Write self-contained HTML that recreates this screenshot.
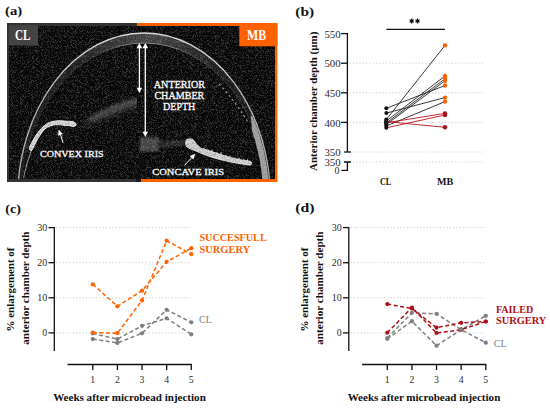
<!DOCTYPE html>
<html><head><meta charset="utf-8"><style>
html,body{margin:0;padding:0;background:#fff;width:550px;height:409px;overflow:hidden}
svg{display:block}
text{font-family:"Liberation Serif",serif}
</style></head><body>
<svg width="550" height="409" viewBox="0 0 550 409">
<text x="5.0" y="15.2" font-size="13.5" text-anchor="start" fill="#111" font-weight="bold" textLength="17.2" lengthAdjust="spacingAndGlyphs" >(a)</text>
<text x="295.3" y="16.2" font-size="13.5" text-anchor="start" fill="#111" font-weight="bold" textLength="18.8" lengthAdjust="spacingAndGlyphs" >(b)</text>
<text x="5.3" y="212.7" font-size="13.5" text-anchor="start" fill="#111" font-weight="bold" textLength="15.6" lengthAdjust="spacingAndGlyphs" >(c)</text>
<text x="295.2" y="211.8" font-size="13.5" text-anchor="start" fill="#111" font-weight="bold" textLength="19.2" lengthAdjust="spacingAndGlyphs" >(d)</text>
<defs><clipPath id="cl"><rect x="9" y="26" width="128" height="153"/></clipPath><clipPath id="cr"><rect x="137" y="26" width="138" height="153"/></clipPath><clipPath id="call"><rect x="9" y="26" width="266" height="153"/></clipPath><filter id="blur1" x="-20%" y="-20%" width="140%" height="140%"><feGaussianBlur stdDeviation="0.5"/></filter><filter id="blur3" x="-50%" y="-50%" width="200%" height="200%"><feGaussianBlur stdDeviation="2.5 1.5"/></filter><filter id="blur4" x="-20%" y="-20%" width="140%" height="140%"><feGaussianBlur stdDeviation="1"/></filter><filter id="blur2" x="-50%" y="-50%" width="200%" height="200%"><feGaussianBlur stdDeviation="2.5"/></filter></defs>
<filter id="spk" x="0" y="0" width="100%" height="100%" filterUnits="objectBoundingBox"><feTurbulence type="fractalNoise" baseFrequency="2.2" numOctaves="2" seed="7" result="n"/><feColorMatrix in="n" type="matrix" values="0 0 0 0 1  0 0 0 0 1  0 0 0 0 1  6 0 0 0 -3.0"/></filter>
<rect x="7" y="23" width="131" height="159" fill="#333"/>
<rect x="137" y="23" width="140.4" height="159" fill="#ff6100"/>
<rect x="9" y="26" width="266" height="153" fill="#080808"/>
<rect x="136" y="179" width="5" height="3" fill="#1a1a1a"/>
<g clip-path="url(#call)">
<defs><linearGradient id="bandg" gradientUnits="userSpaceOnUse" x1="17" y1="0" x2="271" y2="0"><stop offset="0" stop-color="#161616"/><stop offset="0.22" stop-color="#1e1e1e"/><stop offset="0.38" stop-color="#333"/><stop offset="0.52" stop-color="#444"/><stop offset="0.68" stop-color="#2a2a2a"/><stop offset="0.82" stop-color="#1c1c1c"/><stop offset="1" stop-color="#161616"/></linearGradient><linearGradient id="inng" gradientUnits="userSpaceOnUse" x1="17" y1="0" x2="271" y2="0"><stop offset="0" stop-color="#1e1e1e"/><stop offset="0.3" stop-color="#333"/><stop offset="0.45" stop-color="#888"/><stop offset="0.6" stop-color="#888"/><stop offset="0.75" stop-color="#333"/><stop offset="1" stop-color="#2a2a2a"/></linearGradient></defs>
<path d="M17.5,200 A126.5,167 0 0 1 270.5,200 L267.5,200 A123.5,157 0 0 0 20.5,200 Z" fill="url(#bandg)"/>
<defs><linearGradient id="outg" gradientUnits="userSpaceOnUse" x1="0" y1="33" x2="0" y2="180"><stop offset="0" stop-color="#d8d8d8"/><stop offset="0.4" stop-color="#b0b0b0"/><stop offset="1" stop-color="#a0a0a0"/></linearGradient></defs>
<path d="M17.5,200 A126.5,167 0 0 1 270.5,200" fill="none" stroke="url(#outg)" stroke-width="1.4" filter="url(#blur1)"/>
<path d="M20.5,200 A123.5,157 0 0 1 267.5,200" fill="none" stroke="url(#inng)" stroke-width="0.9" filter="url(#blur1)"/>
<path d="M80,123 Q105,107 139,97 L139,110 Q110,115 86,127 Z" fill="#242424" filter="url(#blur2)" clip-path="url(#cl)"/>
<path d="M88,119 Q110,105 139,97.5 L139,104 Q114,109 92,122 Z" fill="#474747" filter="url(#blur3)" clip-path="url(#cl)"/>
<rect x="140" y="137.5" width="19" height="14" fill="#444" filter="url(#blur4)"/>
<path d="M157,141.5 L187,140 L187,145 L157,148 Z" fill="#262626" filter="url(#blur4)"/>
<path d="M252.3,116.0 L254.8,122.0 L257.8,130.0 L260.9,140.0 L263.6,150.0 L265.7,160.0 L267.3,170.0 L268.4,180.0 L262.4,180.0 L261.3,170.0 L259.7,160.0 L257.6,150.0 L254.9,140.0 L251.8,130.0 L251.4,122.0 L250.8,116.0 Z" fill="#9a9a9a" filter="url(#blur1)"/>
<path d="M219,84 Q236,102 249,124" fill="none" stroke="#9a9a9a" stroke-width="1.1" stroke-dasharray="2,3" filter="url(#blur1)"/>
</g>
<path d="M31.5,150 Q27,162 23.5,178" fill="none" stroke="#808080" stroke-width="1.1" filter="url(#blur1)"/>
<path d="M29.50,147.50 C30.28,144.92 33.97,138.42 36.20,135.00 C38.43,131.58 40.68,129.10 42.90,127.00 C45.12,124.90 46.95,123.43 49.50,122.40 C52.05,121.37 55.30,120.98 58.20,120.80 C61.10,120.62 64.60,121.17 66.90,121.30 C69.20,121.43 70.60,121.32 72.00,121.60 C73.40,121.88 74.63,122.40 75.30,123.00 C75.97,123.60 76.30,124.60 76.00,125.20 C75.70,125.80 74.67,126.53 73.50,126.60 C72.33,126.67 70.58,125.82 69.00,125.60 C67.42,125.38 66.00,125.47 64.00,125.30 C62.00,125.13 59.25,124.52 57.00,124.60 C54.75,124.68 52.58,125.00 50.50,125.80 C48.42,126.60 46.50,127.45 44.50,129.40 C42.50,131.35 40.33,134.57 38.50,137.50 C36.67,140.43 34.67,144.83 33.50,147.00 C32.33,149.17 32.17,150.42 31.50,150.50 C30.83,150.58 28.72,150.08 29.50,147.50 Z" fill="#d2d2d2" stroke="#f0f0f0" stroke-width="1" filter="url(#blur1)"/>
<path d="M186.00,140.50 C186.45,139.33 187.83,139.17 189.00,139.00 C190.17,138.83 191.92,138.83 193.00,139.50 C194.08,140.17 194.27,141.62 195.50,143.00 C196.73,144.38 198.82,146.73 200.40,147.80 C201.98,148.87 203.40,148.87 205.00,149.40 C206.60,149.93 208.10,150.37 210.00,151.00 C211.90,151.63 214.07,152.43 216.40,153.20 C218.73,153.97 221.58,154.85 224.00,155.60 C226.42,156.35 228.23,157.02 230.90,157.70 C233.57,158.38 236.85,159.10 240.00,159.70 C243.15,160.30 247.88,160.75 249.80,161.30 C251.72,161.85 251.47,162.38 251.50,163.00 C251.53,163.62 251.92,164.90 250.00,165.00 C248.08,165.10 243.17,164.10 240.00,163.60 C236.83,163.10 235.00,162.87 231.00,162.00 C227.00,161.13 220.50,159.67 216.00,158.40 C211.50,157.13 207.33,155.63 204.00,154.40 C200.67,153.17 198.33,151.97 196.00,151.00 C193.67,150.03 191.62,149.43 190.00,148.60 C188.38,147.77 186.97,147.35 186.30,146.00 C185.63,144.65 185.55,141.67 186.00,140.50 Z" fill="#d0d0d0" stroke="#ececec" stroke-width="0.9" filter="url(#blur1)"/>
<clipPath id="irisclip"><path d="M29.50,147.50 C30.28,144.92 33.97,138.42 36.20,135.00 C38.43,131.58 40.68,129.10 42.90,127.00 C45.12,124.90 46.95,123.43 49.50,122.40 C52.05,121.37 55.30,120.98 58.20,120.80 C61.10,120.62 64.60,121.17 66.90,121.30 C69.20,121.43 70.60,121.32 72.00,121.60 C73.40,121.88 74.63,122.40 75.30,123.00 C75.97,123.60 76.30,124.60 76.00,125.20 C75.70,125.80 74.67,126.53 73.50,126.60 C72.33,126.67 70.58,125.82 69.00,125.60 C67.42,125.38 66.00,125.47 64.00,125.30 C62.00,125.13 59.25,124.52 57.00,124.60 C54.75,124.68 52.58,125.00 50.50,125.80 C48.42,126.60 46.50,127.45 44.50,129.40 C42.50,131.35 40.33,134.57 38.50,137.50 C36.67,140.43 34.67,144.83 33.50,147.00 C32.33,149.17 32.17,150.42 31.50,150.50 C30.83,150.58 28.72,150.08 29.50,147.50 Z"/><path d="M186.00,140.50 C186.45,139.33 187.83,139.17 189.00,139.00 C190.17,138.83 191.92,138.83 193.00,139.50 C194.08,140.17 194.27,141.62 195.50,143.00 C196.73,144.38 198.82,146.73 200.40,147.80 C201.98,148.87 203.40,148.87 205.00,149.40 C206.60,149.93 208.10,150.37 210.00,151.00 C211.90,151.63 214.07,152.43 216.40,153.20 C218.73,153.97 221.58,154.85 224.00,155.60 C226.42,156.35 228.23,157.02 230.90,157.70 C233.57,158.38 236.85,159.10 240.00,159.70 C243.15,160.30 247.88,160.75 249.80,161.30 C251.72,161.85 251.47,162.38 251.50,163.00 C251.53,163.62 251.92,164.90 250.00,165.00 C248.08,165.10 243.17,164.10 240.00,163.60 C236.83,163.10 235.00,162.87 231.00,162.00 C227.00,161.13 220.50,159.67 216.00,158.40 C211.50,157.13 207.33,155.63 204.00,154.40 C200.67,153.17 198.33,151.97 196.00,151.00 C193.67,150.03 191.62,149.43 190.00,148.60 C188.38,147.77 186.97,147.35 186.30,146.00 C185.63,144.65 185.55,141.67 186.00,140.50 Z"/></clipPath>
<filter id="dspk" x="0" y="0" width="100%" height="100%"><feTurbulence type="fractalNoise" baseFrequency="1.3" numOctaves="2" seed="3"/><feColorMatrix type="matrix" values="0 0 0 0 0  0 0 0 0 0  0 0 0 0 0  5 0 0 0 -2.4"/></filter>
<rect x="20" y="115" width="240" height="55" filter="url(#dspk)" clip-path="url(#irisclip)" opacity="0.2"/>
<path d="M203.1,149.4 L204,147.20000000000002 L204.9,149.4 Z M207.2,150.4 L208,148.8 L208.8,150.4 Z M211,151.6 L212,148.79999999999998 L213,151.6 Z M216.2,153.2 L217,151.39999999999998 L217.8,153.2 Z M220,154.6 L221,152.0 L222,154.6 Z M225.2,156 L226,154.5 L226.8,156 Z M229.1,157.3 L230,154.9 L230.9,157.3 Z M234.2,158.6 L235,157.0 L235.8,158.6 Z M238,159.5 L239,156.9 L240,159.5 Z M243.2,160.4 L244,158.6 L244.8,160.4 Z M246.6,161 L247.5,158.8 L248.4,161 Z " fill="#d0d0d0" filter="url(#blur1)"/>
<rect x="9" y="26" width="266" height="153" filter="url(#spk)" opacity="0.18"/>
<line x1="139.4" y1="46" x2="139.4" y2="90" stroke="#fff" stroke-width="1.3"/>
<path d="M139.4,43 L142.20,48.30 L136.60,48.30 Z" fill="#fff"/>
<path d="M139.4,93 L136.60,87.70 L142.20,87.70 Z" fill="#fff"/>
<line x1="145.3" y1="46" x2="145.3" y2="134" stroke="#fff" stroke-width="1.3"/>
<path d="M145.3,43 L148.10,48.30 L142.50,48.30 Z" fill="#fff"/>
<path d="M145.3,137 L142.50,131.70 L148.10,131.70 Z" fill="#fff"/>
<line x1="63.1" y1="142.8" x2="60.3" y2="134" stroke="#fff" stroke-width="1"/>
<path d="M58.7,129.7 L62.82,134.12 L58.08,135.71 Z" fill="#fff"/>
<line x1="184.4" y1="165.5" x2="192" y2="157.3" stroke="#fff" stroke-width="1"/>
<path d="M195.3,153.8 L193.38,159.53 L189.72,156.12 Z" fill="#fff"/>
<text x="153.8" y="88" font-size="10.4" text-anchor="start" fill="#f4f4f4" font-weight="normal" textLength="51.3" lengthAdjust="spacingAndGlyphs" stroke="#fff" stroke-width="0.3">ANTERIOR</text>
<text x="154.4" y="99.3" font-size="10.4" text-anchor="start" fill="#f4f4f4" font-weight="normal" textLength="49.9" lengthAdjust="spacingAndGlyphs" stroke="#fff" stroke-width="0.3">CHAMBER</text>
<text x="163.1" y="110.4" font-size="10.4" text-anchor="start" fill="#f4f4f4" font-weight="normal" textLength="32.2" lengthAdjust="spacingAndGlyphs" stroke="#fff" stroke-width="0.3">DEPTH</text>
<text x="40" y="156.9" font-size="9.2" text-anchor="start" fill="#f4f4f4" font-weight="normal" textLength="63.6" lengthAdjust="spacingAndGlyphs" stroke="#fff" stroke-width="0.3">CONVEX IRIS</text>
<text x="152.3" y="175.1" font-size="9.2" text-anchor="start" fill="#f4f4f4" font-weight="normal" textLength="71.7" lengthAdjust="spacingAndGlyphs" stroke="#fff" stroke-width="0.3">CONCAVE IRIS</text>
<rect x="8.8" y="25.2" width="29.2" height="20.3" fill="#444"/>
<text x="15.0" y="40.0" font-size="13.6" text-anchor="start" fill="#fff" font-weight="bold" textLength="15.5" lengthAdjust="spacingAndGlyphs" >CL</text>
<rect x="239.3" y="23" width="38.1" height="23.3" fill="#ff6100"/>
<text x="247.0" y="39.7" font-size="13.6" text-anchor="start" fill="#fff" font-weight="bold" textLength="19.2" lengthAdjust="spacingAndGlyphs" >MB</text>
<line x1="349.5" y1="63.20000000000001" x2="483" y2="63.20000000000001" stroke="#c8c8c8" stroke-width="0.9" stroke-dasharray="1.2,2.1"/>
<line x1="349.5" y1="92.80000000000001" x2="483" y2="92.80000000000001" stroke="#c8c8c8" stroke-width="0.9" stroke-dasharray="1.2,2.1"/>
<line x1="349.5" y1="122.4" x2="483" y2="122.4" stroke="#c8c8c8" stroke-width="0.9" stroke-dasharray="1.2,2.1"/>
<line x1="349.5" y1="152.0" x2="483" y2="152.0" stroke="#c8c8c8" stroke-width="0.9" stroke-dasharray="1.2,2.1"/>
<line x1="349.5" y1="162" x2="483" y2="162" stroke="#c8c8c8" stroke-width="0.9" stroke-dasharray="1.2,2.1"/>
<line x1="347.4" y1="33.00000000000001" x2="347.4" y2="152.0" stroke="#111" stroke-width="1.3"/>
<line x1="341" y1="33.60000000000001" x2="347.4" y2="33.60000000000001" stroke="#111" stroke-width="1.3"/>
<text x="324.4" y="37.80000000000001" font-size="9.6" text-anchor="start" fill="#2c2c2c" font-weight="normal" textLength="16.2" lengthAdjust="spacingAndGlyphs" >550</text>
<line x1="341" y1="63.20000000000001" x2="347.4" y2="63.20000000000001" stroke="#111" stroke-width="1.3"/>
<text x="324.4" y="67.4" font-size="9.6" text-anchor="start" fill="#2c2c2c" font-weight="normal" textLength="16.2" lengthAdjust="spacingAndGlyphs" >500</text>
<line x1="341" y1="92.80000000000001" x2="347.4" y2="92.80000000000001" stroke="#111" stroke-width="1.3"/>
<text x="324.4" y="97.00000000000001" font-size="9.6" text-anchor="start" fill="#2c2c2c" font-weight="normal" textLength="16.2" lengthAdjust="spacingAndGlyphs" >450</text>
<line x1="341" y1="122.4" x2="347.4" y2="122.4" stroke="#111" stroke-width="1.3"/>
<text x="324.4" y="126.60000000000001" font-size="9.6" text-anchor="start" fill="#2c2c2c" font-weight="normal" textLength="16.2" lengthAdjust="spacingAndGlyphs" >400</text>
<line x1="344" y1="152.0" x2="351" y2="152.0" stroke="#111" stroke-width="1.3"/>
<text x="324.4" y="156.0" font-size="9.6" text-anchor="start" fill="#2c2c2c" font-weight="normal" textLength="16.2" lengthAdjust="spacingAndGlyphs" >350</text>
<path d="M344,162 H351 M347.4,162 V170.3 H341.3" fill="none" stroke="#111" stroke-width="1.3"/>
<text x="324.4" y="165.5" font-size="9.6" text-anchor="start" fill="#2c2c2c" font-weight="normal" textLength="16.2" lengthAdjust="spacingAndGlyphs" >350</text>
<text x="334.6" y="174.4" font-size="9.6" text-anchor="start" fill="#2c2c2c" font-weight="normal" textLength="5.0" lengthAdjust="spacingAndGlyphs" >0</text>
<text transform="translate(317.4,101.3) rotate(-90)" x="-69.60" y="0" font-size="9.4" font-weight="bold" fill="#111" textLength="139.2" lengthAdjust="spacingAndGlyphs">Anterior chamber depth (µm)</text>
<line x1="386.4" y1="29.3" x2="445" y2="29.3" stroke="#111" stroke-width="1.3"/>
<path d="M411.70,23.40 L411.70,18.60 M413.78,22.20 L409.62,19.80 M409.62,22.20 L413.78,19.80 " stroke="#111" stroke-width="1.25"/>
<circle cx="411.7" cy="21" r="1.3" fill="#111"/>
<path d="M417.50,23.40 L417.50,18.60 M419.58,22.20 L415.42,19.80 M415.42,22.20 L419.58,19.80 " stroke="#111" stroke-width="1.25"/>
<circle cx="417.5" cy="21" r="1.3" fill="#111"/>
<text x="380" y="185" font-size="9.8" text-anchor="start" fill="#111" font-weight="bold" textLength="11.3" lengthAdjust="spacingAndGlyphs" >CL</text>
<text x="436.9" y="185" font-size="9.8" text-anchor="start" fill="#111" font-weight="bold" textLength="16.3" lengthAdjust="spacingAndGlyphs" >MB</text>
<line x1="386.3" y1="108.3" x2="445" y2="85.5" stroke="#222" stroke-width="0.9"/>
<line x1="386.3" y1="113.1" x2="445" y2="97.6" stroke="#222" stroke-width="0.9"/>
<line x1="386.3" y1="119.6" x2="445" y2="45.4" stroke="#222" stroke-width="0.9"/>
<line x1="386.3" y1="121" x2="445" y2="76" stroke="#222" stroke-width="0.9"/>
<line x1="386.3" y1="123" x2="445" y2="78.7" stroke="#222" stroke-width="0.9"/>
<line x1="386.3" y1="124.5" x2="445" y2="80.8" stroke="#222" stroke-width="0.9"/>
<line x1="386.3" y1="126" x2="445" y2="101.6" stroke="#222" stroke-width="0.9"/>
<line x1="386.3" y1="122.8" x2="445" y2="113.4" stroke="#b8141c" stroke-width="0.9"/>
<line x1="386.3" y1="127.8" x2="445" y2="115" stroke="#b8141c" stroke-width="0.9"/>
<line x1="386.3" y1="121.6" x2="445" y2="127.3" stroke="#b8141c" stroke-width="0.9"/>
<circle cx="386.3" cy="108.3" r="2" fill="#111"/>
<circle cx="386.3" cy="113.1" r="2" fill="#111"/>
<circle cx="386.3" cy="119.6" r="2" fill="#111"/>
<circle cx="386.3" cy="121" r="2" fill="#111"/>
<circle cx="386.3" cy="123" r="2" fill="#111"/>
<circle cx="386.3" cy="124.5" r="2" fill="#111"/>
<circle cx="386.3" cy="126" r="2" fill="#111"/>
<circle cx="386.3" cy="122.8" r="2" fill="#111"/>
<circle cx="386.3" cy="127.8" r="2" fill="#111"/>
<circle cx="386.3" cy="121.6" r="2" fill="#111"/>
<circle cx="445" cy="85.5" r="2.2" fill="#ff6100"/>
<circle cx="445" cy="97.6" r="2.2" fill="#ff6100"/>
<circle cx="445" cy="45.4" r="2.2" fill="#ff6100"/>
<circle cx="445" cy="76" r="2.2" fill="#ff6100"/>
<circle cx="445" cy="78.7" r="2.2" fill="#ff6100"/>
<circle cx="445" cy="80.8" r="2.2" fill="#ff6100"/>
<circle cx="445" cy="101.6" r="2.2" fill="#ff6100"/>
<circle cx="445" cy="113.4" r="2.2" fill="#ad0f16"/>
<circle cx="445" cy="115" r="2.2" fill="#ad0f16"/>
<circle cx="445" cy="127.3" r="2.2" fill="#ad0f16"/>
<line x1="56.3" y1="227.59999999999997" x2="191.28" y2="227.59999999999997" stroke="#c8c8c8" stroke-width="0.9" stroke-dasharray="1.2,2.1"/>
<line x1="56.3" y1="262.7" x2="191.28" y2="262.7" stroke="#c8c8c8" stroke-width="0.9" stroke-dasharray="1.2,2.1"/>
<line x1="56.3" y1="297.79999999999995" x2="191.28" y2="297.79999999999995" stroke="#c8c8c8" stroke-width="0.9" stroke-dasharray="1.2,2.1"/>
<line x1="56.3" y1="332.9" x2="191.28" y2="332.9" stroke="#c8c8c8" stroke-width="0.9" stroke-dasharray="1.2,2.1"/>
<line x1="54.3" y1="226.99999999999997" x2="54.3" y2="351" stroke="#111" stroke-width="1.3"/>
<line x1="48.5" y1="227.59999999999997" x2="54.3" y2="227.59999999999997" stroke="#111" stroke-width="1.3"/>
<text x="37.2" y="230.99999999999997" font-size="9.8" text-anchor="start" fill="#2c2c2c" font-weight="normal" textLength="10.0" lengthAdjust="spacingAndGlyphs" >30</text>
<line x1="48.5" y1="262.7" x2="54.3" y2="262.7" stroke="#111" stroke-width="1.3"/>
<text x="37.2" y="266.09999999999997" font-size="9.8" text-anchor="start" fill="#2c2c2c" font-weight="normal" textLength="10.0" lengthAdjust="spacingAndGlyphs" >20</text>
<line x1="48.5" y1="297.79999999999995" x2="54.3" y2="297.79999999999995" stroke="#111" stroke-width="1.3"/>
<text x="37.2" y="301.19999999999993" font-size="9.8" text-anchor="start" fill="#2c2c2c" font-weight="normal" textLength="10.0" lengthAdjust="spacingAndGlyphs" >10</text>
<line x1="48.5" y1="332.9" x2="54.3" y2="332.9" stroke="#111" stroke-width="1.3"/>
<text x="42.2" y="336.29999999999995" font-size="9.8" text-anchor="start" fill="#2c2c2c" font-weight="normal" textLength="4.9" lengthAdjust="spacingAndGlyphs" >0</text>
<line x1="67.6" y1="364.5" x2="191.88" y2="364.5" stroke="#111" stroke-width="1.3"/>
<line x1="92.8" y1="364.5" x2="92.8" y2="370" stroke="#111" stroke-width="1.3"/>
<text x="92.8" y="383.1" font-size="9.8" text-anchor="middle" fill="#2c2c2c" font-weight="normal" >1</text>
<line x1="117.42" y1="364.5" x2="117.42" y2="370" stroke="#111" stroke-width="1.3"/>
<text x="117.42" y="383.1" font-size="9.8" text-anchor="middle" fill="#2c2c2c" font-weight="normal" >2</text>
<line x1="142.04" y1="364.5" x2="142.04" y2="370" stroke="#111" stroke-width="1.3"/>
<text x="142.04" y="383.1" font-size="9.8" text-anchor="middle" fill="#2c2c2c" font-weight="normal" >3</text>
<line x1="166.66" y1="364.5" x2="166.66" y2="370" stroke="#111" stroke-width="1.3"/>
<text x="166.66" y="383.1" font-size="9.8" text-anchor="middle" fill="#2c2c2c" font-weight="normal" >4</text>
<line x1="191.28" y1="364.5" x2="191.28" y2="370" stroke="#111" stroke-width="1.3"/>
<text x="191.28" y="383.1" font-size="9.8" text-anchor="middle" fill="#2c2c2c" font-weight="normal" >5</text>
<text x="53.2" y="401" font-size="9.6" text-anchor="start" fill="#111" font-weight="bold" textLength="152.6" lengthAdjust="spacingAndGlyphs" >Weeks after microbead injection</text>
<text transform="translate(13.8,289.5) rotate(-90)" x="-41.95" y="0" font-size="9.3" font-weight="bold" fill="#111" textLength="83.9" lengthAdjust="spacingAndGlyphs">% enlargement of</text>
<text transform="translate(28.6,288.1) rotate(-90)" x="-56.60" y="0" font-size="9.3" font-weight="bold" fill="#111" textLength="113.2" lengthAdjust="spacingAndGlyphs">anterior chamber depth</text>
<polyline points="92.80,333.50 117.42,339.10 142.04,325.80 166.66,318.30 191.28,334.30" fill="none" stroke="#7f7f7f" stroke-width="1.5" stroke-dasharray="4,2.5"/>
<circle cx="92.80" cy="333.50" r="2.1" fill="#7f7f7f"/>
<circle cx="117.42" cy="339.10" r="2.1" fill="#7f7f7f"/>
<circle cx="142.04" cy="325.80" r="2.1" fill="#7f7f7f"/>
<circle cx="166.66" cy="318.30" r="2.1" fill="#7f7f7f"/>
<circle cx="191.28" cy="334.30" r="2.1" fill="#7f7f7f"/>
<polyline points="92.80,339.10 117.42,342.90 142.04,333.30 166.66,309.80 191.28,322.30" fill="none" stroke="#7f7f7f" stroke-width="1.5" stroke-dasharray="4,2.5"/>
<circle cx="92.80" cy="339.10" r="2.1" fill="#7f7f7f"/>
<circle cx="117.42" cy="342.90" r="2.1" fill="#7f7f7f"/>
<circle cx="142.04" cy="333.30" r="2.1" fill="#7f7f7f"/>
<circle cx="166.66" cy="309.80" r="2.1" fill="#7f7f7f"/>
<circle cx="191.28" cy="322.30" r="2.1" fill="#7f7f7f"/>
<polyline points="92.80,284.30 117.42,306.30 142.04,290.70 166.66,261.80 191.28,248.20" fill="none" stroke="#ff6100" stroke-width="1.5" stroke-dasharray="4,2.5"/>
<circle cx="92.80" cy="284.30" r="2.1" fill="#ff6100"/>
<circle cx="117.42" cy="306.30" r="2.1" fill="#ff6100"/>
<circle cx="142.04" cy="290.70" r="2.1" fill="#ff6100"/>
<circle cx="166.66" cy="261.80" r="2.1" fill="#ff6100"/>
<circle cx="191.28" cy="248.20" r="2.1" fill="#ff6100"/>
<polyline points="92.80,332.60 117.42,333.20 142.04,300.40 166.66,240.70 191.28,254.20" fill="none" stroke="#ff6100" stroke-width="1.5" stroke-dasharray="4,2.5"/>
<circle cx="92.80" cy="332.60" r="2.1" fill="#ff6100"/>
<circle cx="117.42" cy="333.20" r="2.1" fill="#ff6100"/>
<circle cx="142.04" cy="300.40" r="2.1" fill="#ff6100"/>
<circle cx="166.66" cy="240.70" r="2.1" fill="#ff6100"/>
<circle cx="191.28" cy="254.20" r="2.1" fill="#ff6100"/>
<text x="199.4" y="241.3" font-size="10.5" text-anchor="start" fill="#ff6100" font-weight="bold" textLength="67.3" lengthAdjust="spacingAndGlyphs" >SUCCESFULL</text>
<text x="199.4" y="252.5" font-size="10.5" text-anchor="start" fill="#ff6100" font-weight="bold" textLength="50.9" lengthAdjust="spacingAndGlyphs" >SURGERY</text>
<text x="199.1" y="323" font-size="10.5" text-anchor="start" fill="#7f7f7f" font-weight="normal" textLength="12.7" lengthAdjust="spacingAndGlyphs" >CL</text>
<line x1="350.8" y1="227.59999999999997" x2="485.78000000000003" y2="227.59999999999997" stroke="#c8c8c8" stroke-width="0.9" stroke-dasharray="1.2,2.1"/>
<line x1="350.8" y1="262.7" x2="485.78000000000003" y2="262.7" stroke="#c8c8c8" stroke-width="0.9" stroke-dasharray="1.2,2.1"/>
<line x1="350.8" y1="297.79999999999995" x2="485.78000000000003" y2="297.79999999999995" stroke="#c8c8c8" stroke-width="0.9" stroke-dasharray="1.2,2.1"/>
<line x1="350.8" y1="332.9" x2="485.78000000000003" y2="332.9" stroke="#c8c8c8" stroke-width="0.9" stroke-dasharray="1.2,2.1"/>
<line x1="348.8" y1="226.99999999999997" x2="348.8" y2="351" stroke="#111" stroke-width="1.3"/>
<line x1="343.0" y1="227.59999999999997" x2="348.8" y2="227.59999999999997" stroke="#111" stroke-width="1.3"/>
<text x="331.7" y="230.99999999999997" font-size="9.8" text-anchor="start" fill="#2c2c2c" font-weight="normal" textLength="10.0" lengthAdjust="spacingAndGlyphs" >30</text>
<line x1="343.0" y1="262.7" x2="348.8" y2="262.7" stroke="#111" stroke-width="1.3"/>
<text x="331.7" y="266.09999999999997" font-size="9.8" text-anchor="start" fill="#2c2c2c" font-weight="normal" textLength="10.0" lengthAdjust="spacingAndGlyphs" >20</text>
<line x1="343.0" y1="297.79999999999995" x2="348.8" y2="297.79999999999995" stroke="#111" stroke-width="1.3"/>
<text x="331.7" y="301.19999999999993" font-size="9.8" text-anchor="start" fill="#2c2c2c" font-weight="normal" textLength="10.0" lengthAdjust="spacingAndGlyphs" >10</text>
<line x1="343.0" y1="332.9" x2="348.8" y2="332.9" stroke="#111" stroke-width="1.3"/>
<text x="336.7" y="336.29999999999995" font-size="9.8" text-anchor="start" fill="#2c2c2c" font-weight="normal" textLength="4.9" lengthAdjust="spacingAndGlyphs" >0</text>
<line x1="362.1" y1="364.5" x2="486.38000000000005" y2="364.5" stroke="#111" stroke-width="1.3"/>
<line x1="387.3" y1="364.5" x2="387.3" y2="370" stroke="#111" stroke-width="1.3"/>
<text x="387.3" y="383.1" font-size="9.8" text-anchor="middle" fill="#2c2c2c" font-weight="normal" >1</text>
<line x1="411.92" y1="364.5" x2="411.92" y2="370" stroke="#111" stroke-width="1.3"/>
<text x="411.92" y="383.1" font-size="9.8" text-anchor="middle" fill="#2c2c2c" font-weight="normal" >2</text>
<line x1="436.54" y1="364.5" x2="436.54" y2="370" stroke="#111" stroke-width="1.3"/>
<text x="436.54" y="383.1" font-size="9.8" text-anchor="middle" fill="#2c2c2c" font-weight="normal" >3</text>
<line x1="461.16" y1="364.5" x2="461.16" y2="370" stroke="#111" stroke-width="1.3"/>
<text x="461.16" y="383.1" font-size="9.8" text-anchor="middle" fill="#2c2c2c" font-weight="normal" >4</text>
<line x1="485.78000000000003" y1="364.5" x2="485.78000000000003" y2="370" stroke="#111" stroke-width="1.3"/>
<text x="485.78000000000003" y="383.1" font-size="9.8" text-anchor="middle" fill="#2c2c2c" font-weight="normal" >5</text>
<text x="347.7" y="401" font-size="9.6" text-anchor="start" fill="#111" font-weight="bold" textLength="152.6" lengthAdjust="spacingAndGlyphs" >Weeks after microbead injection</text>
<text transform="translate(308.3,289.5) rotate(-90)" x="-41.95" y="0" font-size="9.3" font-weight="bold" fill="#111" textLength="83.9" lengthAdjust="spacingAndGlyphs">% enlargement of</text>
<text transform="translate(323.1,288.1) rotate(-90)" x="-56.60" y="0" font-size="9.3" font-weight="bold" fill="#111" textLength="113.2" lengthAdjust="spacingAndGlyphs">anterior chamber depth</text>
<polyline points="387.30,338.00 411.92,312.80 436.54,313.80 461.16,329.70 485.78,342.70" fill="none" stroke="#7f7f7f" stroke-width="1.5" stroke-dasharray="4,2.5"/>
<circle cx="387.30" cy="338.00" r="2.1" fill="#7f7f7f"/>
<circle cx="411.92" cy="312.80" r="2.1" fill="#7f7f7f"/>
<circle cx="436.54" cy="313.80" r="2.1" fill="#7f7f7f"/>
<circle cx="461.16" cy="329.70" r="2.1" fill="#7f7f7f"/>
<circle cx="485.78" cy="342.70" r="2.1" fill="#7f7f7f"/>
<polyline points="387.30,338.80 411.92,321.20 436.54,345.70 461.16,329.70 485.78,315.80" fill="none" stroke="#7f7f7f" stroke-width="1.5" stroke-dasharray="4,2.5"/>
<circle cx="387.30" cy="338.80" r="2.1" fill="#7f7f7f"/>
<circle cx="411.92" cy="321.20" r="2.1" fill="#7f7f7f"/>
<circle cx="436.54" cy="345.70" r="2.1" fill="#7f7f7f"/>
<circle cx="461.16" cy="329.70" r="2.1" fill="#7f7f7f"/>
<circle cx="485.78" cy="315.80" r="2.1" fill="#7f7f7f"/>
<polyline points="387.30,304.10 411.92,308.50 436.54,327.60 461.16,322.80 485.78,321.50" fill="none" stroke="#ad0f16" stroke-width="1.5" stroke-dasharray="4,2.5"/>
<circle cx="387.30" cy="304.10" r="2.1" fill="#ad0f16"/>
<circle cx="411.92" cy="308.50" r="2.1" fill="#ad0f16"/>
<circle cx="436.54" cy="327.60" r="2.1" fill="#ad0f16"/>
<circle cx="461.16" cy="322.80" r="2.1" fill="#ad0f16"/>
<circle cx="485.78" cy="321.50" r="2.1" fill="#ad0f16"/>
<polyline points="387.30,332.70 411.92,307.50 436.54,333.00 461.16,329.70 485.78,321.50" fill="none" stroke="#ad0f16" stroke-width="1.5" stroke-dasharray="4,2.5"/>
<circle cx="387.30" cy="332.70" r="2.1" fill="#ad0f16"/>
<circle cx="411.92" cy="307.50" r="2.1" fill="#ad0f16"/>
<circle cx="436.54" cy="333.00" r="2.1" fill="#ad0f16"/>
<circle cx="461.16" cy="329.70" r="2.1" fill="#ad0f16"/>
<circle cx="485.78" cy="321.50" r="2.1" fill="#ad0f16"/>
<circle cx="461.16" cy="329.7" r="2.1" fill="#7f7f7f"/>
<text x="495.9" y="313.4" font-size="10.5" text-anchor="start" fill="#ad0f16" font-weight="bold" textLength="37.3" lengthAdjust="spacingAndGlyphs" >FAILED</text>
<text x="495.9" y="323.5" font-size="10.5" text-anchor="start" fill="#ad0f16" font-weight="bold" textLength="50.5" lengthAdjust="spacingAndGlyphs" >SURGERY</text>
<text x="493.7" y="347.1" font-size="10.5" text-anchor="start" fill="#7f7f7f" font-weight="normal" textLength="13.0" lengthAdjust="spacingAndGlyphs" >CL</text>
</svg>
</body></html>
